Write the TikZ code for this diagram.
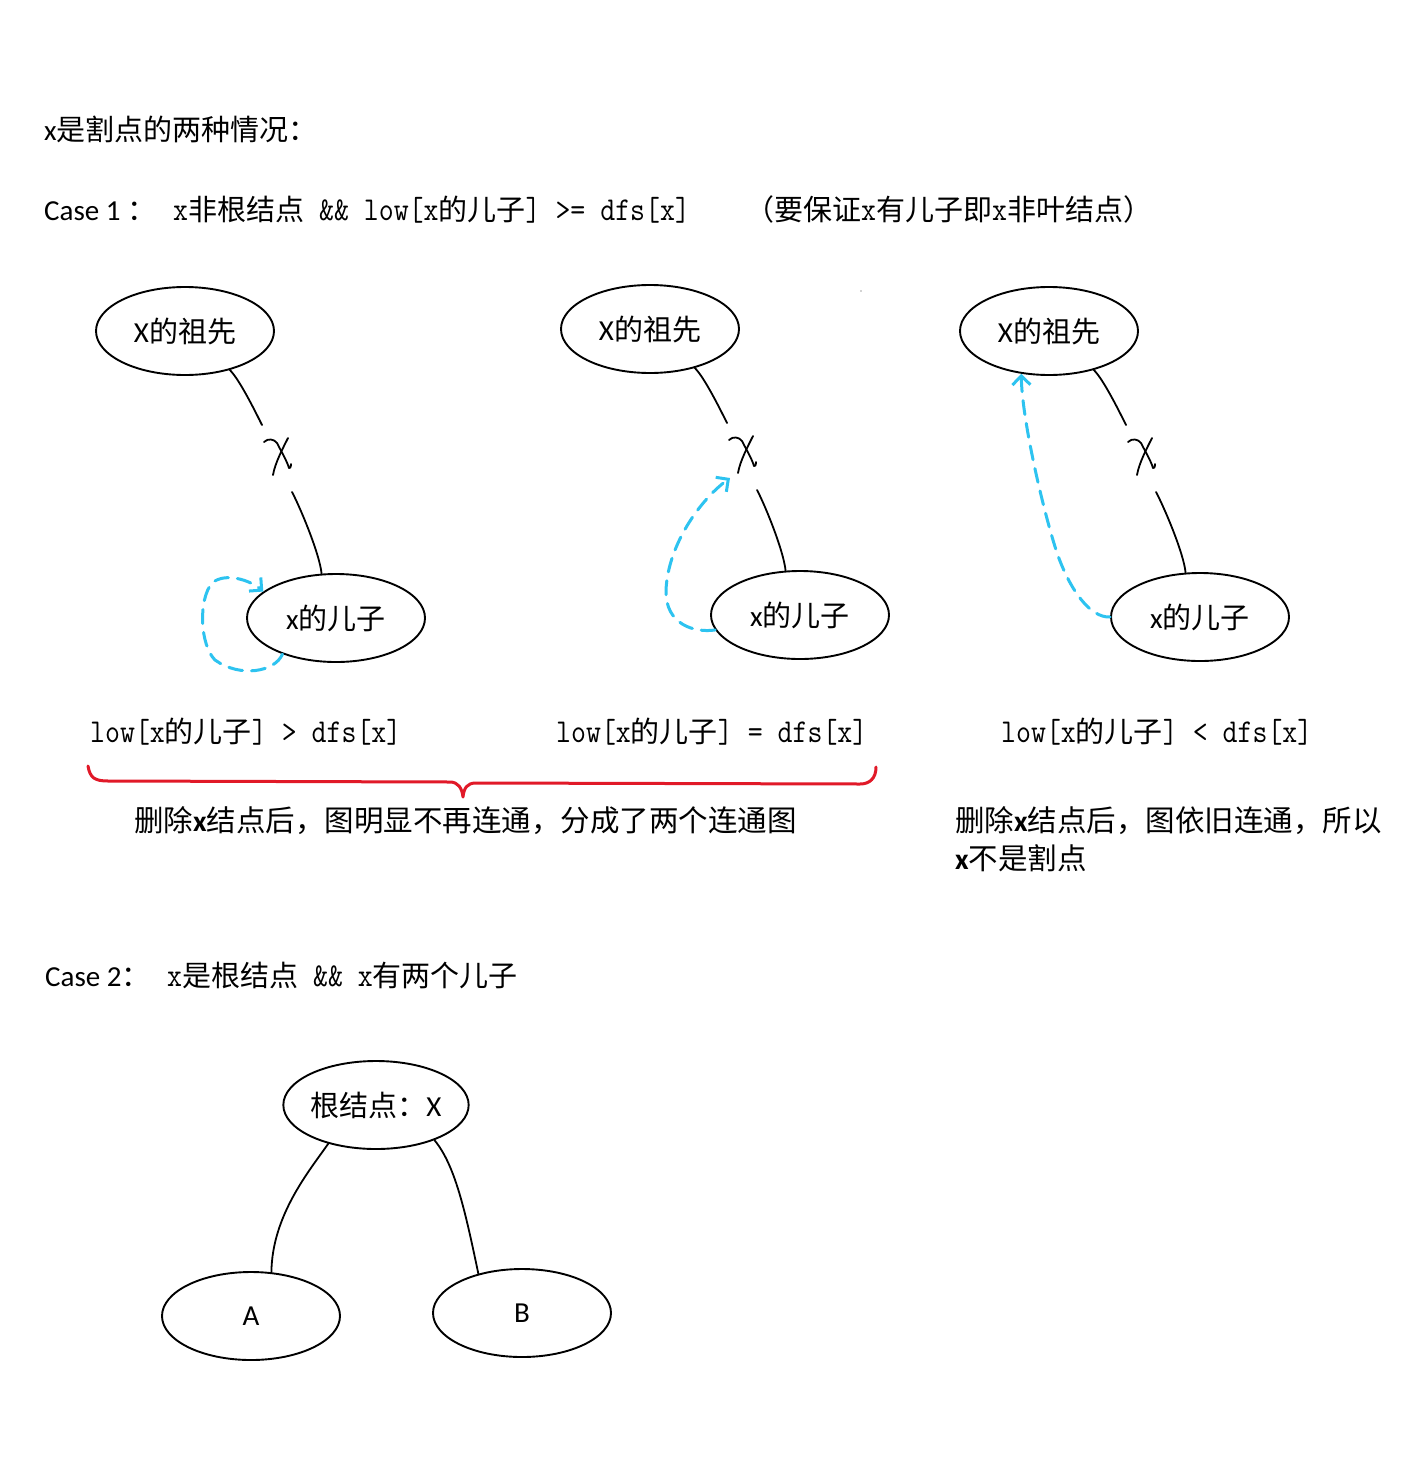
\documentclass[tikz,border=0pt]{standalone}
\usepackage{fontspec}
\setmainfont{Carlito}
\newfontfamily\cjk{Noto Sans CJK SC}
\newfontfamily\lat{Carlito}
\newfontfamily\mono[Scale=1.15,FakeStretch=0.87]{Latin Modern Mono}
\usetikzlibrary{shapes.geometric,arrows.meta,calc}
\definecolor{skyc}{RGB}{45,195,240}
\definecolor{bracec}{RGB}{225,25,40}
\newcommand{\cutedge}[2]{%
  \coordinate (#1u) at ($(#1)+(77,-94)$);
  \coordinate (#1l) at ($(#1)+(107,-161)$);
  \coordinate (#1k) at ($(#1)+(78,-112)$);
  \draw[edge] (#1.-41) .. controls +(10,-10) and +(-6,12) .. (#1u);
  \draw[edge] (#1l) .. controls +(8,-15) and +(-2,20) .. (#2.108);
  \draw[edge, shift={(#1k)}] (1,1) .. controls (5,5) and (11,4) .. (14,0) .. controls (18,-8) and (24,-18) .. (26,-25) .. controls (27,-26) and (28,-24) .. (28,-21);
  \draw[edge, shift={(#1k)}] (25,5) .. controls (20,-5) and (12,-20) .. (10,-32);
}
\begin{document}
\begin{tikzpicture}[x=1pt,y=1pt,
  txt/.style={anchor=base west, inner sep=0pt, font=\fontsize{29}{35}\selectfont},
  txtb/.style={anchor=base west, inner sep=0pt, font=\fontsize{29.5}{36}\selectfont},
  ell/.style={draw, ellipse, line width=1.9pt, minimum width=178pt, minimum height=88pt, inner sep=0pt, font=\fontsize{29}{35}\selectfont},
  edge/.style={line width=1.8pt, line cap=round, line join=round},
  back/.style={draw=skyc, line width=3pt, dash pattern=on 14pt off 9pt, line cap=round, -{Straight Barb[length=9pt,width=18pt]}},
  bracepath/.style={draw=bracec, line width=3pt, line cap=round, line join=round}]
\fill[white] (0,0) rectangle (1425,-1469);
\useasboundingbox (0,0) rectangle (1425,-1469);

% headings
\node[txt] (t1) at (44,-141) {{\lat x}{\cjk 是割点的两种情况：}};
\node[txt] (t2) at (44,-220) {{\lat Case 1 }{\cjk ：}};
\node[txt] (t3) at (173,-220) {{\mono x}{\cjk 非根结点}{\mono{} \&\& low[x}{\cjk 的儿子}{\mono] >= dfs[x]}};
\node[txt] (t4) at (745,-220) {{\cjk （要保证}{\mono x}{\cjk 有儿子即}{\mono x}{\cjk 非叶结点）}};

% ellipses row 1
\node[ell] (a1) at (185,-331) {{\lat X}{\cjk 的祖先}};
\node[ell] (c1) at (336,-618) {{\lat x}{\cjk 的儿子}};
\node[ell] (a2) at (650,-329) {{\lat X}{\cjk 的祖先}};
\node[ell] (c2) at (800,-615) {{\lat x}{\cjk 的儿子}};
\node[ell] (a3) at (1049,-331) {{\lat X}{\cjk 的祖先}};
\node[ell] (c3) at (1200,-617) {{\lat x}{\cjk 的儿子}};

\cutedge{a1}{c1}
\cutedge{a2}{c2}
\cutedge{a3}{c3}

% back edges
\draw[back] (c1.-146) .. controls (275,-672) and (240,-678) .. (215,-660)
  .. controls (200,-645) and (198,-600) .. (212,-583)
  .. controls (225,-572) and (250,-580) .. (c1.160);
\coordinate (t2end) at (730,-478);
\draw[back] (c2.-170) .. controls (695,-633) and (665,-625) .. (666,-590)
  .. controls (668,-545) and (700,-500) .. (t2end);
\draw[back] (c3.180) .. controls (1090,-618) and (1070,-590) .. (1057,-553)
  .. controls (1043,-510) and (1022,-420) .. (a3.-123);

\fill[gray!70] (861,-291) circle (0.8pt);

% low labels
\node[txt] (l1) at (90,-742) {{\mono low[x}{\cjk 的儿子}{\mono] > dfs[x]}};
\node[txt] (l2) at (556,-742) {{\mono low[x}{\cjk 的儿子}{\mono] = dfs[x]}};
\node[txt] (l3) at (1001,-742) {{\mono low[x}{\cjk 的儿子}{\mono] < dfs[x]}};

% brace
\draw[bracepath] (88,-766) .. controls (90,-778) and (95,-781) .. (108,-781) -- (450,-782)
  .. controls (458,-782) and (462,-788) .. (463,-797)
  .. controls (464,-788) and (467,-783) .. (476,-783) -- (860,-784)
  .. controls (870,-784) and (876,-778) .. (876,-767);

\node[txtb] (d1) at (134,-831) {{\cjk 删除}{\lat\bfseries x}{\cjk 结点后，图明显不再连通，分成了两个连通图}};
\node[txtb] (d2) at (955,-831) {{\cjk 删除}{\lat\bfseries x}{\cjk 结点后，图依旧连通，所以}};
\node[txtb] (d3) at (955,-869) {{\lat\bfseries x}{\cjk 不是割点}};

% case 2
\node[txt] (k1) at (45,-986) {{\lat Case 2}{\cjk ：}};
\node[txt] (k2) at (167,-986) {{\mono x}{\cjk 是根结点}{\mono{} \&\& x}{\cjk 有两个儿子}};

\node[ell] (r) at (376,-1105) {{\cjk 根结点：}{\lat X}};
\node[ell] (A) at (251,-1316) {{\lat A}};
\node[ell] (B) at (522,-1313) {{\lat B}};
\draw[edge] (r.-141) .. controls (310,-1170) and (272,-1215) .. (A.65);
\draw[edge] (r.-31) .. controls (455,-1165) and (465,-1210) .. (B.138);
\end{tikzpicture}
\end{document}
